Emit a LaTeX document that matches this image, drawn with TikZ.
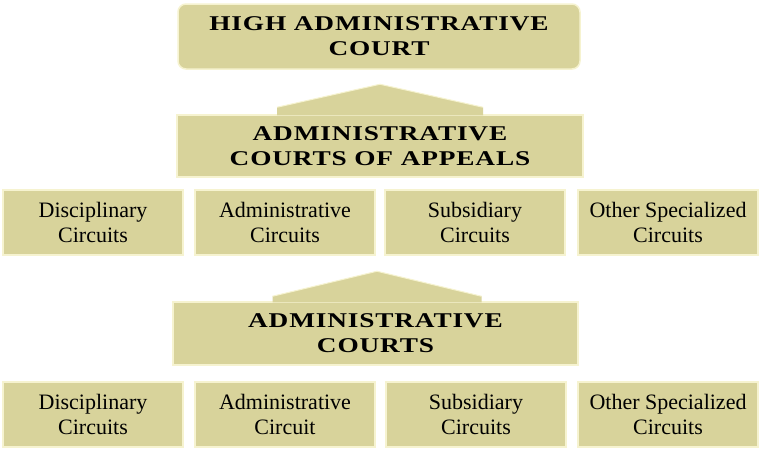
\documentclass[tikz,border=0pt]{standalone}
\usepackage{fontspec}
\usetikzlibrary{calc}
\setmainfont{Liberation Serif}
\newfontfamily\headfont{Liberation Serif Bold}[FakeStretch=1.3,LetterSpace=4]
\definecolor{boxfill}{RGB}{216,211,155}
\definecolor{boxlight}{RGB}{246,243,208}

\begin{document}
\begin{tikzpicture}[x=1pt, y=-1pt,
  box/.style={fill=boxfill, draw=boxlight, line width=1.5pt, inner sep=0pt, align=center,
    minimum width=180pt, minimum height=65pt, font=\fontsize{22}{25}\selectfont},
  tier/.style={fill=boxfill, draw=boxlight, line width=1.5pt, inner sep=0pt, align=center,
    font=\headfont\fontsize{21}{25}\selectfont}]

\useasboundingbox (0,0) rectangle (768,451);

% the high court on top
\node[tier, rounded corners=8pt, minimum width=402pt, minimum height=65pt] (high) at (379,36.5) {HIGH ADMINISTRATIVE\\COURT};

% courts of appeals with its roof
\node[tier, minimum width=406pt, minimum height=62pt] (appeals) at (380,146) {ADMINISTRATIVE\\COURTS OF APPEALS};
\fill[boxfill] ($(appeals.north)+(-103,1)$) -- ++(0,-8) -- ($(appeals.north)+(0,-30)$) -- ($(appeals.north)+(103,-7)$) -- ++(0,8) -- cycle;
\draw[boxlight, line width=1pt] ($(appeals.north)+(-103,-7)$) -- ($(appeals.north)+(0,-30)$) -- ($(appeals.north)+(103,-7)$);

% circuits of the courts of appeals
\foreach \x/\name/\txt in {93/dis/{Disciplinary\\Circuits}, 285/adm/{Administrative\\Circuits},
    475/sub/{Subsidiary\\Circuits}, 668/oth/{Other Specialized\\Circuits}}
  \node[box] (up-\name) at (\x,222.5) {\txt};

% administrative courts with its roof
\node[tier, minimum width=405pt, minimum height=63pt] (courts) at (375.5,333.5) {ADMINISTRATIVE\\COURTS};
\fill[boxfill] ($(courts.north)+(-103,1)$) -- ++(0,-6) -- ($(courts.north)+(1.5,-30)$) -- ($(courts.north)+(106,-5)$) -- ++(0,6) -- cycle;
\draw[boxlight, line width=1pt] ($(courts.north)+(-103,-5)$) -- ($(courts.north)+(1.5,-30)$) -- ($(courts.north)+(106,-5)$);

% circuits of the administrative courts
\foreach \x/\name/\txt in {93/dis/{Disciplinary\\Circuits}, 285/adm/{Administrative\\Circuit},
    476/sub/{Subsidiary\\Circuits}, 668/oth/{Other Specialized\\Circuits}}
  \node[box] (low-\name) at (\x,414.5) {\txt};

\end{tikzpicture}
\end{document}
